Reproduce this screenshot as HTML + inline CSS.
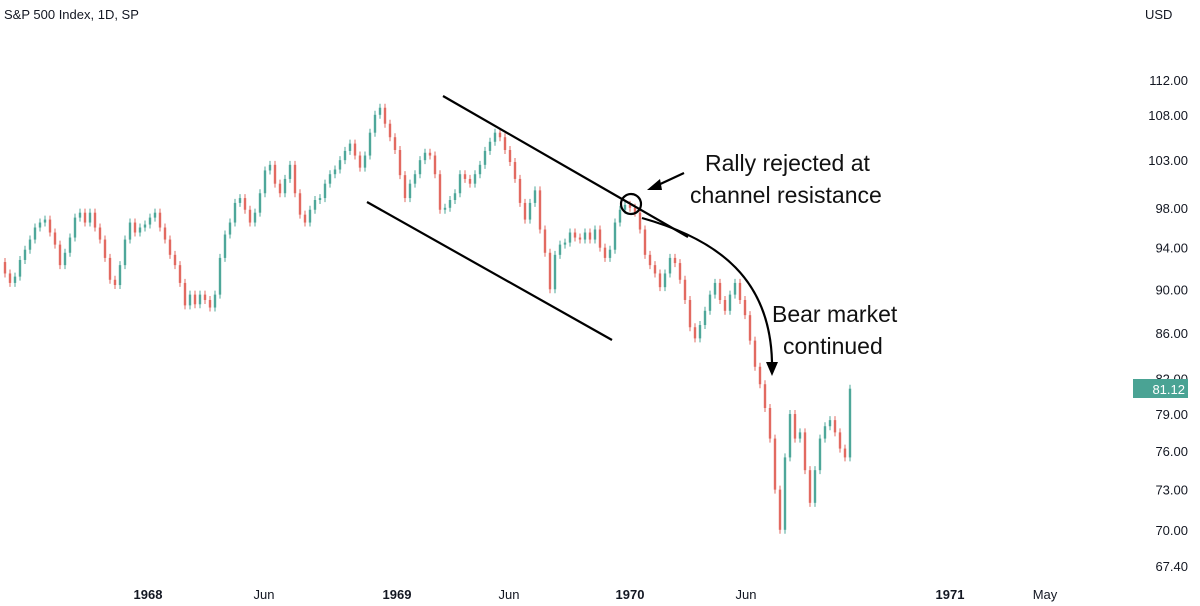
<!DOCTYPE html>
<html><head><meta charset="utf-8"><style>
html,body{margin:0;padding:0;background:#fff;}
svg{display:block;font-family:"Liberation Sans",sans-serif;}
</style></head><body>
<svg id="chart" width="1200" height="606" viewBox="0 0 1200 606">
<text x="4" y="19" font-size="13" fill="#131722">S&amp;P 500 Index, 1D, SP</text>
<text x="1145" y="19" font-size="13" fill="#131722">USD</text>
<g id="yaxis"></g>
<g id="xaxis"></g>
<g id="candles"></g>
<g stroke="#000" fill="none" stroke-width="2.2">
<line x1="443" y1="96" x2="688" y2="237"/>
<line x1="367" y1="202" x2="612" y2="340"/>
<circle cx="631" cy="204" r="10"/>
<line x1="684" y1="173" x2="656" y2="186"/>
<path d="M642 218 C720 240 770 280 772 362"/>
</g>
<polygon points="647,190 660,179 662,190" fill="#000"/>
<polygon points="766,362 778,362 772,376" fill="#000"/>
<g font-size="23" fill="#111">
<text x="705" y="171">Rally rejected at</text>
<text x="690" y="203">channel resistance</text>
<text x="772" y="322">Bear market</text>
<text x="783" y="354">continued</text>
</g>
<rect x="1133" y="379" width="55" height="19" fill="#4aa394"/>
<text x="1185" y="394" font-size="13" fill="#fff" text-anchor="end">81.12</text>
</svg>
<script>
const closes=[92.6,91.5,90.6,91.2,92.8,93.8,94.8,96.0,96.5,96.8,95.5,94.3,92.3,93.5,95.0,97.0,97.5,96.5,97.5,96.0,94.8,93.0,90.9,90.4,92.3,94.8,96.5,95.5,96.0,96.3,97.0,97.5,96.0,94.8,93.3,92.3,90.6,88.5,89.5,88.6,89.5,89.0,88.3,89.5,93.0,95.3,96.5,98.5,99.0,97.8,96.5,97.5,99.5,101.9,102.5,100.5,99.5,101.0,102.5,99.5,97.3,96.5,97.8,98.8,99.0,100.5,101.5,102.0,103.0,104.0,104.8,103.5,102.2,103.5,106.0,108.0,108.8,107.0,105.5,104.1,101.4,99.0,100.5,101.5,103.0,103.8,103.5,101.5,97.8,98.0,98.8,99.5,101.5,101.0,100.5,101.5,102.5,104.0,105.0,106.0,105.5,104.1,102.8,101.0,98.5,96.8,98.5,99.8,95.8,93.5,90.0,93.3,94.3,94.5,95.5,95.0,94.8,95.5,94.8,95.8,94.0,93.0,93.8,96.5,97.8,98.3,98.0,97.5,95.8,93.3,92.3,91.5,90.2,91.5,93.0,92.5,90.9,89.0,86.5,85.5,86.7,88.0,89.5,90.6,89.0,88.0,89.5,90.6,89.0,87.6,85.3,83.0,81.5,79.5,77.0,73.0,70.0,75.5,79.0,77.0,77.5,74.5,72.0,74.5,77.0,78.0,78.5,77.5,76.2,75.5,81.12];
const yTicks=[112,108,103,98,94,90,86,82,79,76,73,70,67.4];
const yTickLabels=["112.00","108.00","103.00","98.00","94.00","90.00","86.00","82.00","79.00","76.00","73.00","70.00","67.40"];
const xLabels=["1968","Jun","1969","Jun","1970","Jun","1971","May"];
const xLabelIdx=[29.6,52.8,79.4,101.8,126,149.2,190,209];
const xLabelBold=[1,0,1,0,1,0,1,0];
const NS="http://www.w3.org/2000/svg";
function yS(p){return 80+957*Math.log(112/p);}
function xS(i){return i*5;}
const ya=document.getElementById('yaxis'),xa=document.getElementById('xaxis'),cg=document.getElementById('candles');
yTicks.forEach((v,i)=>{
 const t=document.createElementNS(NS,'text');
 
 
 t.setAttribute('x',1188);t.setAttribute('y',yS(v)+5);t.setAttribute('text-anchor','end');
 t.setAttribute('font-size','13');t.setAttribute('fill','#131722');
 t.textContent=yTickLabels[i];ya.appendChild(t);
});
xLabels.forEach((l,i)=>{
 const t=document.createElementNS(NS,'text');
 
 
 t.setAttribute('x',xS(xLabelIdx[i]));t.setAttribute('y',599);t.setAttribute('text-anchor','middle');
 t.setAttribute('font-size','13');t.setAttribute('fill','#131722');
 if(xLabelBold[i])t.setAttribute('font-weight','bold');
 t.textContent=l;xa.appendChild(t);
});
for(let i=1;i<closes.length;i++){
 const o=closes[i-1],c=closes[i];
 const up=c>=o,col=up?'#4ea79a':'#e26a61';
 const x=xS(i);
 const yt=yS(Math.max(o,c)),yb=yS(Math.min(o,c));
 const w=document.createElementNS(NS,'line');
 
 
 w.setAttribute('x1',x);w.setAttribute('x2',x);w.setAttribute('y1',yt-4);w.setAttribute('y2',yb+4);
 w.setAttribute('stroke',col);w.setAttribute('stroke-width','1');cg.appendChild(w);
 const r=document.createElementNS(NS,'rect');
 
 
 r.setAttribute('x',x-1.2);r.setAttribute('width',2.4);r.setAttribute('y',yt);r.setAttribute('height',Math.max(1,yb-yt));
 r.setAttribute('fill',col);cg.appendChild(r);
}
</script>
</body></html>
